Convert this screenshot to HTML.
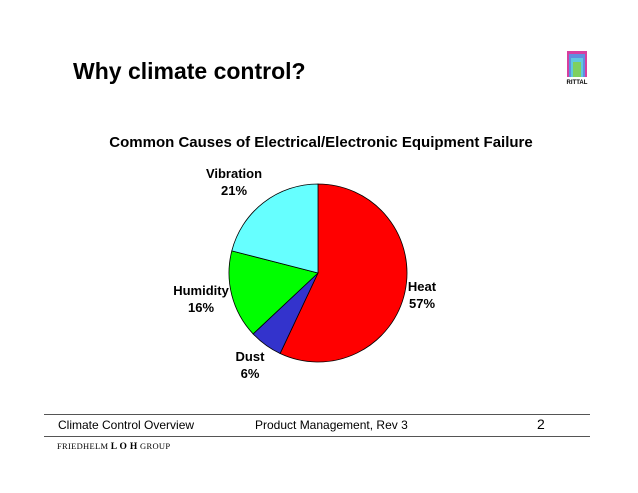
<!DOCTYPE html>
<html><head><meta charset="utf-8"><style>
body{margin:0;width:638px;height:493px;background:#fff;position:relative;overflow:hidden;font-family:"Liberation Sans",Arial,sans-serif}
.a{position:absolute}
</style></head><body>
<div class="a" style="left:73px;top:58px;font-size:23px;font-weight:bold;color:#000">Why climate control?</div>
<svg class="a" style="left:565px;top:50px" width="24" height="36">
<rect x="2" y="1" width="20" height="26" fill="#d63fa0"/><rect x="4" y="4" width="16" height="23" fill="#5f8fe0"/><rect x="6" y="8" width="12" height="19" fill="#60c8e0"/><rect x="8" y="12" width="8" height="15" fill="#7fd060"/>
<text x="12" y="34" font-size="6" font-weight="bold" text-anchor="middle" font-family="Liberation Sans">RITTAL</text></svg>
<div class="a" style="left:0;width:638px;top:134px;text-align:center;font-size:15px;font-weight:bold;color:#000;padding-left:2px">Common Causes of Electrical/Electronic Equipment Failure</div>
<svg class="a" id="pie" style="left:0;top:0" width="638" height="493"></svg>
<div class="a" style="left:44px;top:414px;width:546px;height:1px;background:#555"></div>
<div class="a" style="left:44px;top:436px;width:546px;height:1px;background:#555"></div>
<div class="a" style="left:58px;top:418px;font-size:12px">Climate Control Overview</div>
<div class="a" style="left:255px;top:418px;font-size:12px">Product Management, Rev 3</div>
<div class="a" style="left:537px;top:416px;font-size:14px">2</div>
<div class="a" style="left:57px;top:441px;font-size:8.5px;font-family:'Liberation Serif',serif;letter-spacing:0.3px">FRIEDHELM <b style="font-size:9.5px">L O H</b> GROUP</div>
<script>
const categories=["Heat","Dust","Humidity","Vibration"];
const values=[57,6,16,21];
const colors=["#ff0000","#3333cc","#00ff00","#66ffff"];
const labelPos=[[422,291,"middle"],[250,361,"middle"],[201,295,"middle"],[234,178,"middle"]];
const svg=document.getElementById('pie');const ns="http://www.w3.org/2000/svg";
const cx=318,cy=273,r=89;const total=values.reduce((a,b)=>a+b,0);
let ang=0;
values.forEach((v,i)=>{
 const a0=ang,a1=ang+v/total*2*Math.PI;ang=a1;
 const x0=cx+r*Math.sin(a0),y0=cy-r*Math.cos(a0),x1=cx+r*Math.sin(a1),y1=cy-r*Math.cos(a1);
 const p=document.createElementNS(ns,'path');
 p.setAttribute('d',`M${cx},${cy}L${x0},${y0}A${r},${r} 0 ${a1-a0>Math.PI?1:0} 1 ${x1},${y1}Z`);
 p.setAttribute('fill',colors[i]);p.setAttribute('stroke','#000');p.setAttribute('stroke-width','0.8');
 
 
 svg.appendChild(p);
 const [lx,ly,an]=labelPos[i];
 [categories[i],v+'%'].forEach((s,k)=>{
  const t=document.createElementNS(ns,'text');
  t.setAttribute('x',lx);t.setAttribute('y',ly+k*17);t.setAttribute('text-anchor',an);
  t.setAttribute('font-size','13');t.setAttribute('font-weight','bold');t.setAttribute('font-family','Liberation Sans');
  t.textContent=s;
  
  
  svg.appendChild(t);
 });
});
</script>
</body></html>
